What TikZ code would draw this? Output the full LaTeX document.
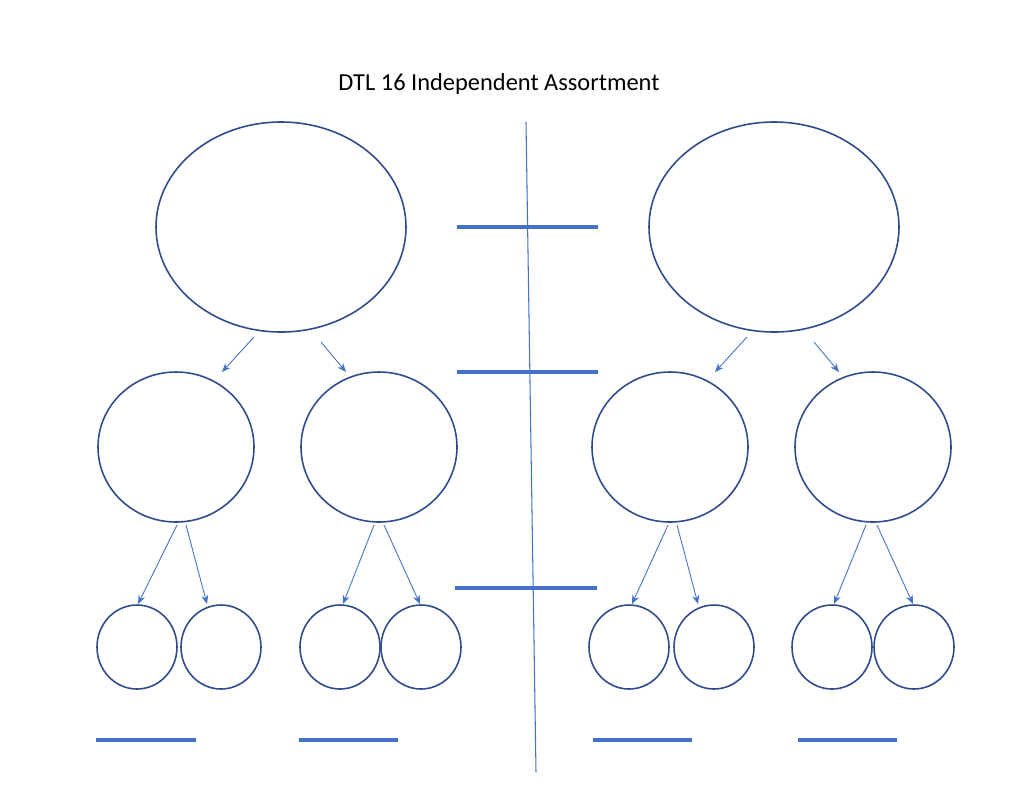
\documentclass[tikz,border=0pt]{standalone}
\usepackage{fontspec}
\setmainfont{Carlito}
\usetikzlibrary{arrows.meta}
\definecolor{edge}{HTML}{2F4B8C}
\definecolor{acc}{HTML}{4472C4}
\tikzset{circ/.style={draw=edge,line width=0.9pt},
 bar/.style={draw=acc,line width=1.8pt},
 arr/.style={draw=acc,line width=0.5pt,-{Stealth[length=5pt,width=4pt]}}}
\begin{document}
\begin{tikzpicture}[x=0.02cm,y=-0.02cm]
\useasboundingbox (0,0) rectangle (1024,796);
\node (title) at (499,84) {\fontsize{13.9}{17}\selectfont DTL 16 Independent Assortment};
\draw[circ] (281,227) ellipse [x radius=125,y radius=105];
\draw[circ] (774,227) ellipse [x radius=125,y radius=105];
\foreach \x in {176,379,670,873}{\draw[circ] (\x,447) ellipse [x radius=78,y radius=75];}
\foreach \x in {137,221,340,421,629,714,832,914}{\draw[circ] (\x,647) ellipse [x radius=40,y radius=42];}
\coordinate (v1) at (526,122); \coordinate (v2) at (536,772);
\draw[acc,line width=0.6pt] (v1) -- (v2);
\foreach \a/\b/\y in {457/598/227,457/598/372,455/597/588,96/196/740,299/398/740,593/692/740,798/897/740}{
 \coordinate (p) at (\a,\y); \coordinate (q) at (\b,\y); \draw[bar] (p) -- (q);}
\foreach \a/\b/\c/\d in {254/337/222/372,321/342/346/372,747/337/715/372,814/342/839/372,
 177/525/138/604,186/525/207/604,374/525/343/604,384/525/420/604,
 668/525/632/604,677/525/698/604,866/525/834/604,877/525/913/604}{
 \coordinate (s) at (\a,\b); \coordinate (t) at (\c,\d); \draw[arr] (s) -- (t);}
\end{tikzpicture}
\end{document}
